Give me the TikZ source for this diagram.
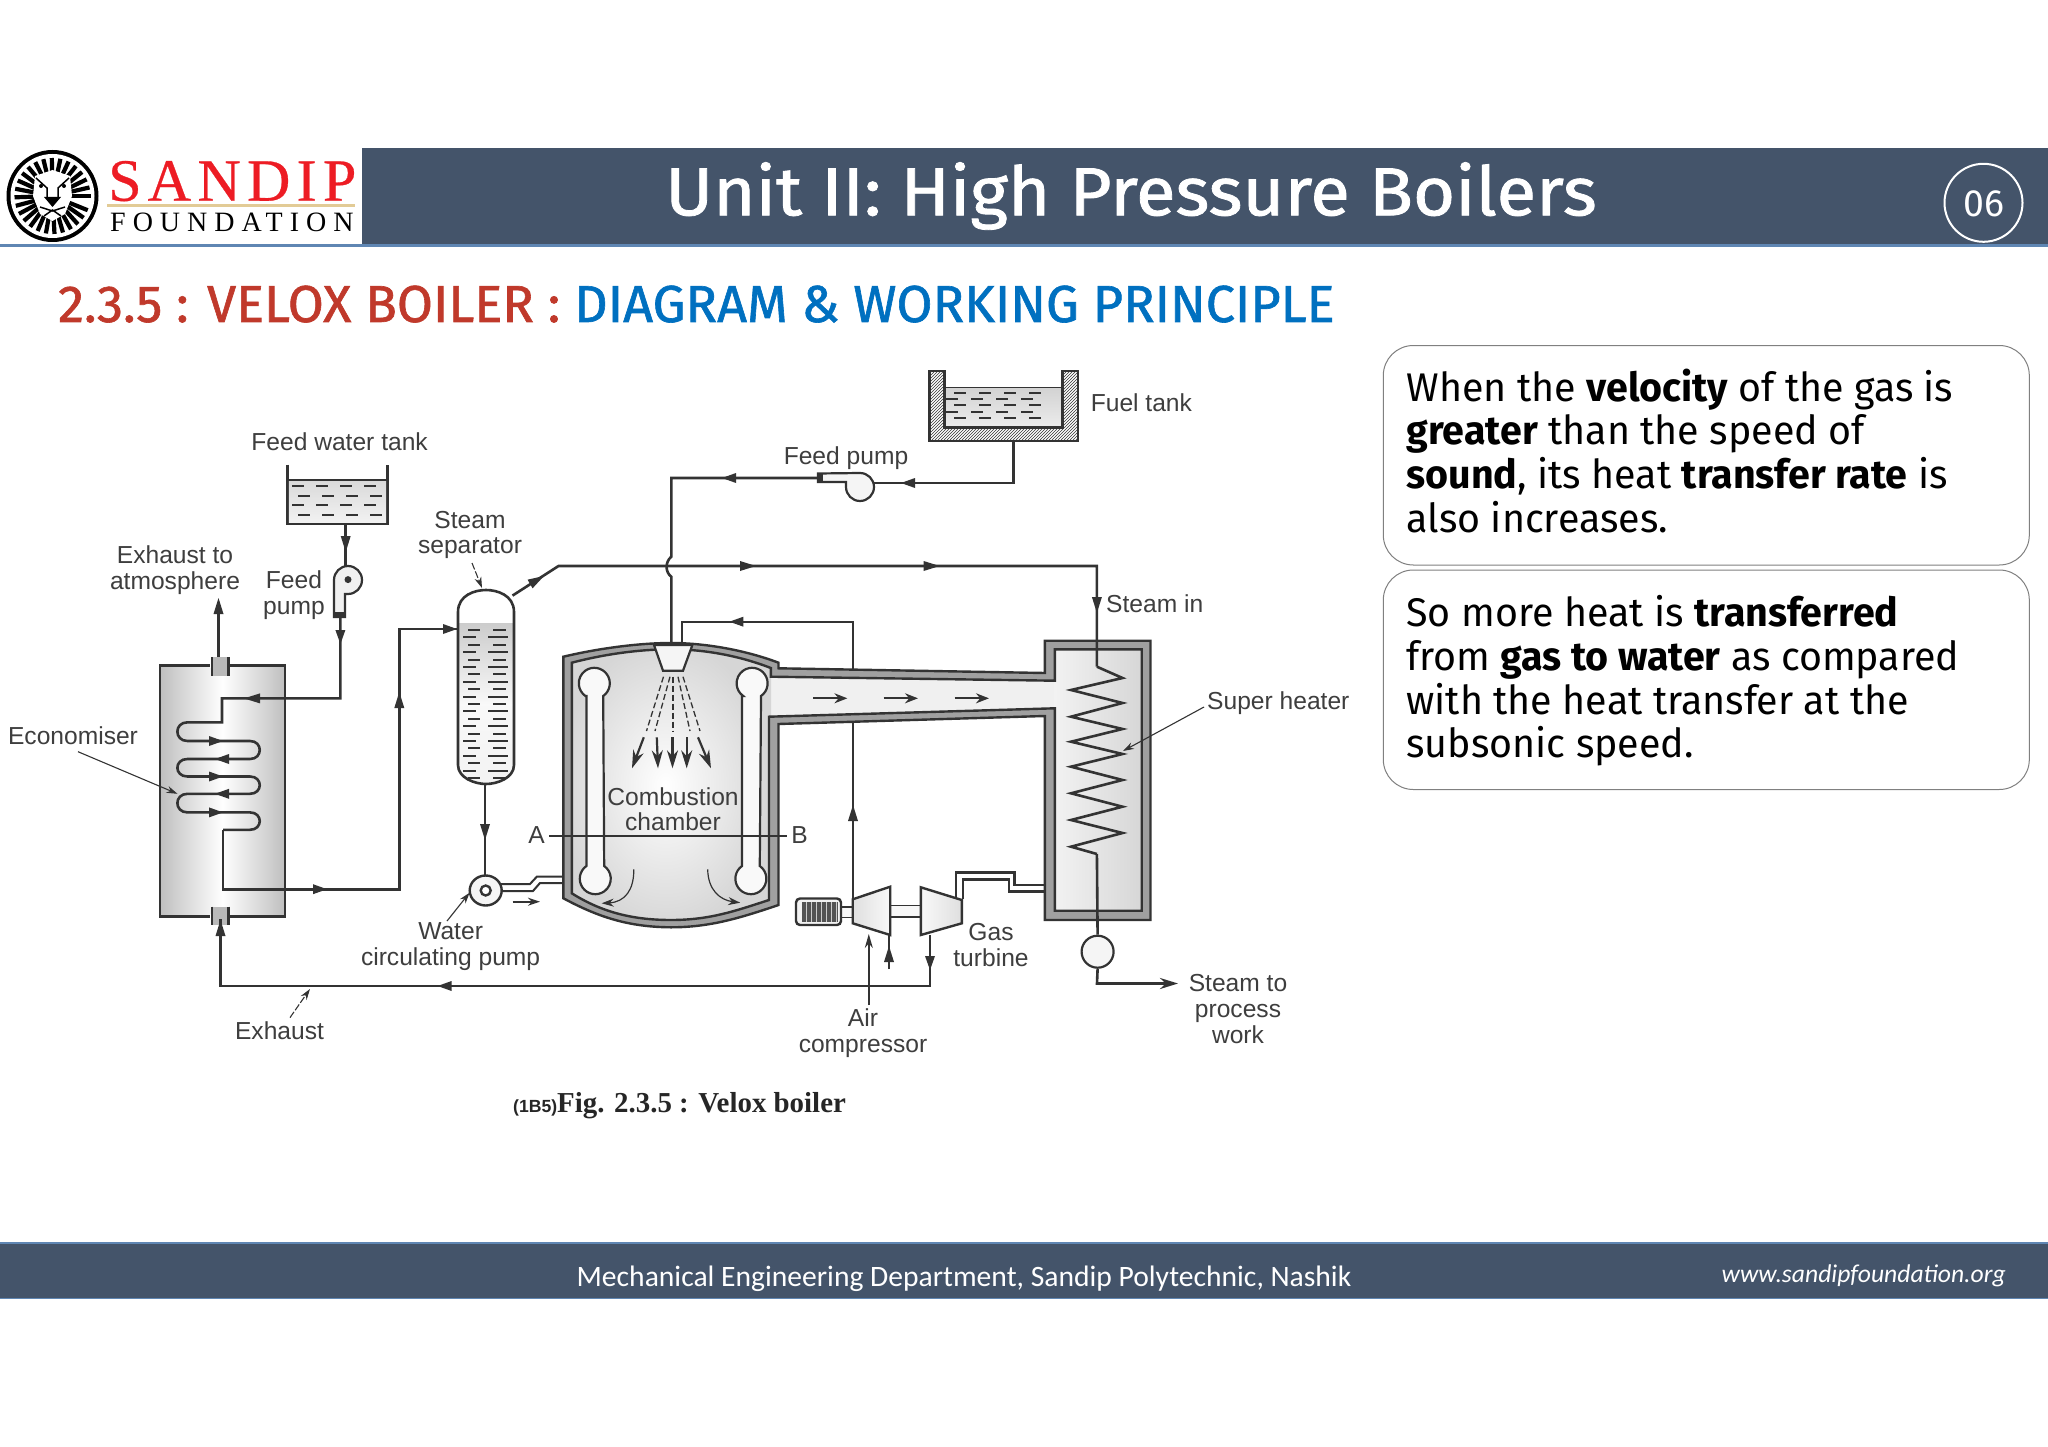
\documentclass[tikz,border=0pt]{standalone}
\usepackage{fontspec}
\usetikzlibrary{arrows.meta,patterns,calc,shapes.geometric}
\newfontfamily\lab{Liberation Sans}
\newfontfamily\ser{Liberation Serif}
\newfontfamily\serS[LetterSpace=10.5,FakeBold=0.5]{Liberation Serif}
\newfontfamily\serF[LetterSpace=25]{Liberation Serif}
\newfontfamily\firaT[FakeStretch=1.065,FakeBold=1.2]{Fira Sans}
\newfontfamily\firaH[FakeStretch=1.004,FakeBold=1.2]{Fira Sans}
\newfontfamily\fira[FakeStretch=0.985]{Fira Sans}
\newfontfamily\foot{Carlito}
\definecolor{barc}{HTML}{44546A}
\definecolor{edgec}{HTML}{5F86B3}
\definecolor{pipec}{HTML}{333333}
\definecolor{labc}{HTML}{3E3E3E}
\definecolor{wallc}{HTML}{A0A0A0}
\definecolor{redh}{HTML}{C0392B}
\definecolor{blueh}{HTML}{0070C0}
\definecolor{logored}{HTML}{ED1C24}
\definecolor{logogold}{HTML}{E2CB96}
\newcommand{\tipat}[4][9]{\fill[pipec,shift={(#2,#3)},rotate=#4] (#1 pt,0pt)--(-#1 pt,5pt)--(-#1 pt,-5pt)--cycle;}
\tikzset{
  pipe/.style={draw=pipec,line width=2.6pt,line join=miter},
  thin pipe/.style={draw=pipec,line width=2pt},
  leader/.style={draw=pipec,line width=1.1pt,-{Stealth[length=11pt,width=7pt]}},
  wall/.style={draw=pipec,line width=2.4pt},
  lbl/.style={font=\fontsize{24.6}{25.8}\selectfont\lab,text=labc,inner sep=0pt,align=center},
  infobox/.style={draw=gray,line width=1pt,rounded corners=30pt,fill=white,minimum width=646pt,minimum height=219.5pt,inner sep=0pt},
  infotext/.style={inner sep=0pt,align=left,text=black,font=\fontsize{40}{43.9}\selectfont\fira},
  wdash/.style={draw=pipec,line width=2pt},
}
\begin{document}
\begin{tikzpicture}[x=1pt,y=-1pt]
\useasboundingbox (0,0) rectangle (2048,1447);
\fill[white] (0,0) rectangle (2048,1447);
% ---- header
\fill[edgec] (0,244) rectangle (362,247);
\fill[barc] (362,148) rectangle (2048,245);
\fill[edgec] (362,244) rectangle (2048,247);
\node[anchor=center,text=white,inner sep=0pt,font=\fontsize{68}{72}\selectfont\firaT] (title) at (1131,196) {Unit II: High Pressure Boilers};
\draw[white,line width=2pt] (1983.5,202.8) circle[radius=39pt];
\node[text=white,inner sep=0pt,font=\fontsize{38}{40}\selectfont\fira] (pageno) at (1984,204) {06};
% ---- logo
\fill[black] (52.5,196) circle[radius=46pt];
\fill[white] (52.5,196) circle[radius=42pt];
\foreach \a in {0,13,...,350}{\draw[black,line width=4.2pt] ($(52.5,196)+(\a:18pt)$) -- ($(52.5,196)+(\a:38pt)$);}
\fill[white] (52.5,170) -- (70,176) -- (72,196) -- (65,214) -- (52.5,221) -- (40,214) -- (33,196) -- (35,176) -- cycle;
\draw[black,line width=1.5pt] (36,178) -- (47,188) -- (47,197) (69,178) -- (58,188) -- (58,197);
\fill[black] (44,197) -- (61,197) -- (52.5,207) -- cycle;
\fill[black] (41,186) circle[radius=2pt] (64,186) circle[radius=2pt];
\draw[black,line width=1.5pt] (40,207) -- (52.5,211) -- (65,207) (44,216) -- (52.5,210) -- (61,216);
\node[anchor=base west,inner sep=0pt,text=logored,font=\fontsize{60}{60}\selectfont\serS] (sandip) at (108,200.7) {SANDIP};
\fill[logogold] (107,204.5) rectangle (355,207.5);
\node[anchor=base west,inner sep=0pt,text=black,font=\fontsize{28}{28}\selectfont\serF] (found) at (110,231.7) {FOUNDATION};
% ---- heading
\node[anchor=base west,inner sep=0pt,font=\fontsize{52}{54}\selectfont\firaH] (heading) at (58,322) {\textcolor{redh}{2.3.5 : VELOX BOILER : }\textcolor{blueh}{DIAGRAM \& WORKING PRINCIPLE}};
% ---- economiser
\shade[left color=gray!50,right color=gray!50,middle color=white] (160,665.4) rectangle (285,916.5);
\draw[line width=2.6pt,draw=pipec] (160,665.4) rectangle (285,916.5);
\fill[white] (210,663) rectangle (230,668);
\fill[white] (210,914) rectangle (230,919);
\fill[gray!55] (212,657) rectangle (228.6,675.8);
\draw[pipec,line width=2.6pt] (212,657) -- (212,675.8) (228.6,657) -- (228.6,675.8);
\fill[gray!55] (212,906.5) rectangle (228.6,925);
\draw[pipec,line width=2.6pt] (212,906.5) -- (212,925) (228.6,906.5) -- (228.6,925);
\coordinate (exTop) at (218.5,657); \coordinate (exAtm) at (218.5,604);
\draw[pipe] (exTop) -- (exAtm); \tipat[8]{218.5}{606}{90}
% coil
\coordinate (feedIn) at (340.4,617);
\coordinate (coilEnd) at (223,829.8);
\draw[pipe] (feedIn) -- (340.4,698.4) -- (222,698.4) -- (222,722.3) -- (187.5,722.3)
  .. controls (174,722.3) and (174,741) .. (187.5,741) -- (250,741)
  .. controls (263,741) and (263,759) .. (250,759) -- (187.5,759)
  .. controls (174,759) and (174,776.5) .. (187.5,776.5) -- (250,776.5)
  .. controls (263,776.5) and (263,793.8) .. (250,793.8) -- (187.5,793.8)
  .. controls (174,793.8) and (174,812.4) .. (187.5,812.4) -- (250,812.4)
  .. controls (263,812.4) and (263,829.8) .. (250,829.8) -- (coilEnd);
\tipat[7]{340.4}{637}{270}
\tipat[8]{252}{698.4}{180}
\foreach \yy in {741,776.5,812.4}{\tipat[7]{216}{\yy}{0}}
\foreach \yy in {759,793.8}{\tipat[7]{222}{\yy}{180}}
\coordinate (sepIn) at (459,629);
\draw[pipe] (coilEnd) -- (223,889.2) -- (399.3,889.2) -- (399.3,629) -- (sepIn);
\tipat[7]{320}{889.2}{0}
\tipat[8]{399.3}{700}{90}
\tipat[7]{450}{629}{0}
% ---- exhaust line
\coordinate (turbOut) at (930,935); \coordinate (exIn) at (220.5,919);
\draw[pipe] (turbOut) -- (930,986) -- (220.5,986) -- (exIn);
\tipat[8]{220.5}{928}{90}
\tipat[7]{444.6}{986}{180}
\tipat[7]{930}{963}{270}
% ---- feed water tank
\draw[pipe,fill=white] (287.5,464.7) -- (287.5,524) -- (387.5,524) -- (387.5,464.7);
\shade[top color=gray!30,bottom color=gray!10] (288.8,479.8) rectangle (386.2,522.7);
\draw[pipec,line width=1.4pt] (287.5,479.8) -- (387.5,479.8);
\draw[pipec,line width=2.4pt] (287.5,524) -- (387.5,524);
\foreach \yy/\xs in {486/292,495.5/298,505.4/292,515.4/298}{\foreach \k in {0,1,2,3}{\draw[wdash] (\xs+\k*24,\yy) -- (\xs+\k*24+12,\yy);}}
\coordinate (tankOut) at (345.7,524); \coordinate (fpIn) at (345.7,567);
\draw[pipe] (tankOut) -- (fpIn); \tipat[8]{345.7}{544}{270}
% left feed pump
\draw[pipec,line width=2.2pt,fill=gray!12] (334,617) -- (334,580) arc[start angle=180,end angle=-90,radius=14pt] -- (345,594) -- (345,617) -- cycle;
\fill[pipec] (334,612) rectangle (345,618);
\fill[pipec] (348,579.6) circle[radius=3.5pt];
% ---- separator
\path[fill=white] (458,612) .. controls (458,595) and (475,590) .. (486,590) .. controls (497,590) and (514,595) .. (514,612) -- (514,765) .. controls (514,778) and (497,784) .. (486,784) .. controls (475,784) and (458,778) .. (458,765) -- cycle;
\begin{scope}
\clip (458,612) .. controls (458,595) and (475,590) .. (486,590) .. controls (497,590) and (514,595) .. (514,612) -- (514,765) .. controls (514,778) and (497,784) .. (486,784) .. controls (475,784) and (458,778) .. (458,765) -- cycle;
\shade[top color=gray!40,bottom color=gray!10,middle color=gray!5] (458,623) rectangle (514,785);
\end{scope}
\draw[pipec,line width=2.6pt] (458,612) .. controls (458,595) and (475,590) .. (486,590) .. controls (497,590) and (514,595) .. (514,612) -- (514,765) .. controls (514,778) and (497,784) .. (486,784) .. controls (475,784) and (458,778) .. (458,765) -- cycle;
\foreach \i in {0,...,20}{
  \pgfmathsetmacro{\yy}{630+\i*7.4}
  \ifodd\i
    \draw[wdash] (463,\yy) -- (476,\yy) (488,\yy) -- (508,\yy);
  \else
    \draw[wdash] (468,\yy) -- (480,\yy) (493,\yy) -- (506,\yy);
  \fi
}
\coordinate (sepOut) at (512.5,595.6); \coordinate (sepDrain) at (485,784); \coordinate (wpTop) at (485,875);
\draw[pipe] (sepDrain) -- (wpTop); \tipat[8]{485}{832}{270}
% ---- air line, below the duct
\coordinate (compTop) at (853,912); \coordinate (burnAir) at (681.7,643);
\draw[thin pipe] (compTop) -- (853,621.7) -- (681.7,621.7) -- (burnAir);
\tipat[8]{853}{813}{90}
\tipat[7]{736.4}{621.7}{180}
% ---- boiler wall
\def\outerpath{(563.4,656.7) .. controls (600,648) and (640,643) .. (671,643) .. controls (705,643) and (745,650) .. (778.5,662.7) -- (778.5,668.3) -- (1044.8,673) -- (1044.8,640.7) -- (1150.5,640.7) -- (1150.5,920) -- (1044.8,920) -- (1044.8,716) -- (778.5,724) -- (778.5,905) .. controls (740,918) and (710,927.3) .. (671,927.3) .. controls (630,927) and (600,918) .. (563.4,898.3) -- cycle}
\def\innerpath{(571.8,662.7) .. controls (605,654) and (640,649.3) .. (671,649.3) .. controls (705,649.3) and (740,656) .. (770.8,668) -- (770.8,676.7) -- (1054.8,680.7) -- (1054.8,649.3) -- (1141.7,649.3) -- (1141.7,910.7) -- (1054.8,910.7) -- (1054.8,708.3) -- (769,716.7) -- (769,900) .. controls (735,911) and (710,920) .. (671,920) .. controls (630,920) and (600,911) .. (571.8,893.3) -- cycle}
\fill[wallc] \outerpath;
\draw[wall] \outerpath;
\fill[gray!12] \innerpath;
\begin{scope}
\clip \innerpath;
\shade[inner color=white,outer color=gray!32] (560,640) rectangle (771,930);
\shade[left color=gray!10,right color=gray!32] (1054,648) rectangle (1143,912);
\end{scope}
\draw[wall] \innerpath;
% tubes
\foreach \xa/\xb in {594.8/586.4,751.5/742}{
  \pgfmathsetmacro{\xc}{2*\xa-\xb}
  \draw[pipec,line width=2.2pt,fill=gray!5] (\xb,696) -- (\xb,866) arc[start angle=125,end angle=415,radius=15.5pt] -- (\xc,696) arc[start angle=-55,end angle=235,radius=15.5pt] -- cycle;
}
% burner
\coordinate (burnTop) at (671.3,645);
\draw[pipec,line width=2.2pt,fill=gray!8] (654,645) -- (692.4,645) -- (683,670.7) -- (663,670.7) -- cycle;
\foreach \xa/\xb in {663.5/646.5,670/655,673/673,678/690,683/700}{\draw[pipec,line width=1.3pt,dash pattern=on 6pt off 3pt] (\xa,676.7) -- (\xb,731);}
\foreach \xa/\ya/\xb/\yb in {643.8/737.3/632/768.3,656.8/737.3/658/768.3,672.5/737.3/672.5/768.3,686.7/737.3/686.7/768.3,698/737.3/711/768.3}{
 \draw[pipec,line width=2.2pt,-{Stealth[length=18pt,width=11pt]}] (\xa,\ya) -- (\xb,\yb);}
% curved arrows
\draw[pipec,line width=1.2pt,-{Stealth[length=12pt,width=8pt]}] (633.8,869.3) .. controls (634,890) and (625,902) .. (601.7,903.3);
\draw[pipec,line width=1.2pt,-{Stealth[length=12pt,width=8pt]}] (707.7,869.3) .. controls (708,890) and (720,900) .. (740.2,902.7);
% A-B
\node[lbl] (lblA) at (536.6,835.5) {A};
\node[lbl] (lblB) at (799.6,835.5) {B};
\draw[pipe,line width=2pt] ($(lblA.east)+(4,0)$) -- ($(lblB.west)+(-4,0)$);
\node[lbl] (lblCC) at (673,809) {Combustion\\[-0.5pt]chamber};
% duct arrows
\foreach \xa/\xb in {813/847.4,883.7/918,954.5/989}{
  \draw[pipec,line width=1.8pt,-{Stealth[length=13pt,width=10pt]}] (\xa,698.3) -- (\xb,698.3);}
% ---- fuel line
\coordinate (fuelPump) at (818,478);
\draw[pipe] (burnTop) -- (671.3,576.7) .. controls (665,572) and (665,562) .. (671.3,556.7) -- (671.3,478) -- (fuelPump);
\tipat[7]{729}{478}{180}
% ---- steam main
\coordinate (ssTop) at (1096.9,666.7);
\coordinate (ssEnd) at (1096.9,854);
\draw[pipe] (sepOut) -- (558.5,566) -- (1096.9,566) -- (ssTop);
\tipat[8]{537}{580}{30}
\tipat[8]{748}{566}{0}
\tipat[8]{931.6}{566}{0}
\tipat[8]{1096.9}{605}{270}
% zigzag
\draw[pipec,line width=2.6pt,line join=miter] (ssTop) -- (1122.5,678) -- (1071,690) -- (1122.5,703) -- (1071,716.7) -- (1122.5,729) -- (1071,741.7) -- (1122.5,754) -- (1071,766.7) -- (1122.5,780) -- (1071,793.3) -- (1122.5,806.7) -- (1071,820) -- (1122.5,833) -- (1071,846.7) -- (ssEnd);
% steam out
\node[circle,draw=pipec,line width=2.2pt,fill=gray!8,minimum size=32pt,inner sep=0pt] (trap) at (1097.6,951.7) {};
\draw[pipe] (ssEnd) -- (trap.north);
\coordinate (procEnd) at (1178,983.5);
\draw[pipe,-{Stealth[length=18pt,width=11pt]}] (trap.south) -- (1097,983.5) -- (procEnd);
% ---- water circulating pump
\draw[pipec,line width=2pt] (498,884) -- (530,884) -- (537,876.5) -- (563.4,876.5)
 (498,891) -- (533,891) -- (540,883) -- (563.4,883);
\node[ellipse,draw=pipec,line width=2.4pt,fill=gray!8,minimum width=32pt,minimum height=30pt,inner sep=0pt] (wcp) at (485.7,890.5) {};
\draw[pipec,line width=2.4pt,fill=white] (485.7,890.5) circle[radius=5pt];
\draw[pipec,line width=1.8pt,-{Stealth[length=12pt,width=8pt]}] (512.5,901.7) -- (540,901.7);
% ---- compressor / turbine
\draw[pipec,line width=1.6pt,fill=gray!6] (889,905.5) rectangle (922,917);
\draw[pipec,line width=1.6pt,fill=gray!6] (840,906.7) rectangle (853,917.3);
\shade[left color=gray!25,right color=gray!5] (852.7,899.3) -- (890.2,886.7) -- (890.2,935) -- (852.7,923.3) -- cycle;
\draw[pipec,line width=2.4pt] (852.7,899.3) -- (890.2,886.7) -- (890.2,935) -- (852.7,923.3) -- cycle;
\shade[left color=gray!5,right color=gray!25] (920.8,887.3) -- (961.8,900) -- (961.8,923.3) -- (920.8,935) -- cycle;
\draw[pipec,line width=2.4pt] (920.8,887.3) -- (961.8,900) -- (961.8,923.3) -- (920.8,935) -- cycle;
% motor
\draw[pipec,line width=2.4pt,fill=gray!10,rounded corners=4pt] (796,898.5) rectangle (841,925);
\fill[gray!65!black] (802,902) rectangle (838,921.5);
\foreach \xx in {806,811,...,836}{\draw[gray!40,line width=0.8pt] (\xx,902) -- (\xx,921.5);}
% hot gas duct
\coordinate (gt) at (959.5,899);
\draw[pipec,line width=2.6pt] (956,898.3) -- (956,872.7) -- (1014.2,872.7) -- (1014.2,885) -- (1044.8,885);
\draw[pipec,line width=2.6pt] (963,899) -- (963,879.3) -- (1008.9,879.3) -- (1008.9,891.7) -- (1044.8,891.7);
% small arrows at the compressor
\draw[pipec,line width=1.5pt,-{Stealth[length=14pt,width=8pt]}] (868.8,1005) -- (868.8,934);
\draw[pipe] (889,969) -- (889,935); \tipat[8]{889}{954}{90}
% ---- fuel tank
\draw[pipec,line width=2pt,fill=white] (929.3,370.7) rectangle (1077.7,440.7);
\fill[pattern=north east lines,pattern color=pipec] (929.3,370.7) rectangle (1077.7,440.7);
\shade[top color=gray!35,bottom color=gray!15,draw=none] (944.6,387.3) rectangle (1062.4,427.3);
\fill[white] (944.6,369.5) rectangle (1062.4,387.3);
\draw[pipec,line width=2.4pt] (929.3,370.7) -- (929.3,440.7) -- (1077.7,440.7) -- (1077.7,370.7) -- (1062.4,370.7) -- (1062.4,427.3) -- (944.6,427.3) -- (944.6,370.7) -- cycle;
\draw[pipec,line width=1.4pt] (944.6,387.3) -- (1062.4,387.3);
\foreach \yy/\xs in {392.7/954,399/946,405.3/954,411.7/946,418.3/954}{\foreach \k in {0,1,2,3}{\draw[wdash] (\xs+\k*25,\yy) -- (\xs+\k*25+12,\yy);}}
\coordinate (ftOut) at (1013.4,440.7);
% right feed pump
\coordinate (rpIn) at (873.8,483);
\draw[pipe] (ftOut) -- (1013.4,483) -- (rpIn);
\tipat[7]{908}{483}{180}
\draw[pipec,line width=2.2pt,fill=gray!8] (818,473.5) -- (860,473) arc[start angle=90,end angle=-180,radius=14pt] -- (846,482) -- (818,482) -- cycle;
\fill[pipec] (817,473) rectangle (823,482.5);
% ---- labels
\node[lbl] (lFWT) at (339.6,441.5) {Feed water tank};
\node[lbl] (lEA) at (175,570.5) {Exhaust to\\atmosphere};
\node[lbl] (lFP) at (294,595) {Feed\\pump};
\node[lbl] (lSS) at (470,535) {Steam\\separator};
\node[lbl] (lEco) at (73,735.5) {Economiser};
\node[lbl] (lWCP) at (450.6,946.5) {Water\\circulating pump};
\node[lbl] (lEx) at (279.5,1031) {Exhaust};
\node[lbl] (lAC) at (863,1033.5) {Air\\compressor};
\node[lbl] (lGT) at (991,945) {Gas\\turbine};
\node[lbl] (lSP) at (1238,1009) {Steam to\\process\\work};
\node[lbl,anchor=west] (lSI) at (1106,604) {Steam in};
\node[lbl,anchor=west] (lFT) at (1090.6,403) {Fuel tank};
\node[lbl] (lFP2) at (846,458) {Feed pump};
\node[lbl,anchor=west] (lSH) at (1207,703.5) {Super heater};
\node[anchor=base west,inner sep=0pt,font=\fontsize{28.9}{30}\selectfont\ser\bfseries,text=black!85] (cap) at (513,1112) {{\fontsize{17.6}{18}\selectfont\lab\bfseries (1B5)}Fig. 2.3.5 : Velox boiler};
% leaders
\coordinate (a1) at (78,751.7); \coordinate (a2) at (177.5,793.8);
\draw[leader] (a1) -- (a2);
\coordinate (b1) at (290,1017.6); \coordinate (b2) at (310,989);
\draw[leader,dash pattern=on 7pt off 2pt] (b1) -- (b2);
\coordinate (c1) at (472,563); \coordinate (c2) at (482,588);
\draw[leader,dash pattern=on 7pt off 2pt] (c1) -- (c2);
\coordinate (d1) at (447,921); \coordinate (d2) at (469.6,892.7);
\draw[leader] (d1) -- (d2);
\coordinate (e1) at (1204,707); \coordinate (e2) at (1123,751);
\draw[leader] (e1) -- (e2);
% ---- text boxes
\node[infobox,anchor=north west] (box1) at (1382.8,345) {};
\node[infotext,anchor=west] (txt1) at ($(box1.west)+(23.5,-4.3)$) {When the {\bfseries velocity} of the gas is\\{\bfseries greater} than the speed of\\{\bfseries sound}, its heat {\bfseries transfer rate} is\\also increases.};
\node[infobox,anchor=north west] (box2) at (1382.8,569.5) {};
\node[infotext,anchor=west] (txt2) at ($(box2.west)+(23.5,1)$) {So more heat is {\bfseries transferred}\\from {\bfseries gas to water} as compared\\with the heat transfer at the\\subsonic speed.};
% ---- footer
\fill[edgec] (0,1242) rectangle (2048,1299);
\fill[barc] (0,1243.5) rectangle (2048,1297.5);
\node[text=white,inner sep=0pt,font=\fontsize{29.6}{32}\selectfont\foot] (ftext) at (964,1279) {Mechanical Engineering Department, Sandip Polytechnic, Nashik};
\node[text=white,inner sep=0pt,anchor=east,font=\fontsize{25.6}{28}\selectfont\foot\itshape] (furl) at (2006,1276) {www.sandipfoundation.org};
\end{tikzpicture}
\end{document}
